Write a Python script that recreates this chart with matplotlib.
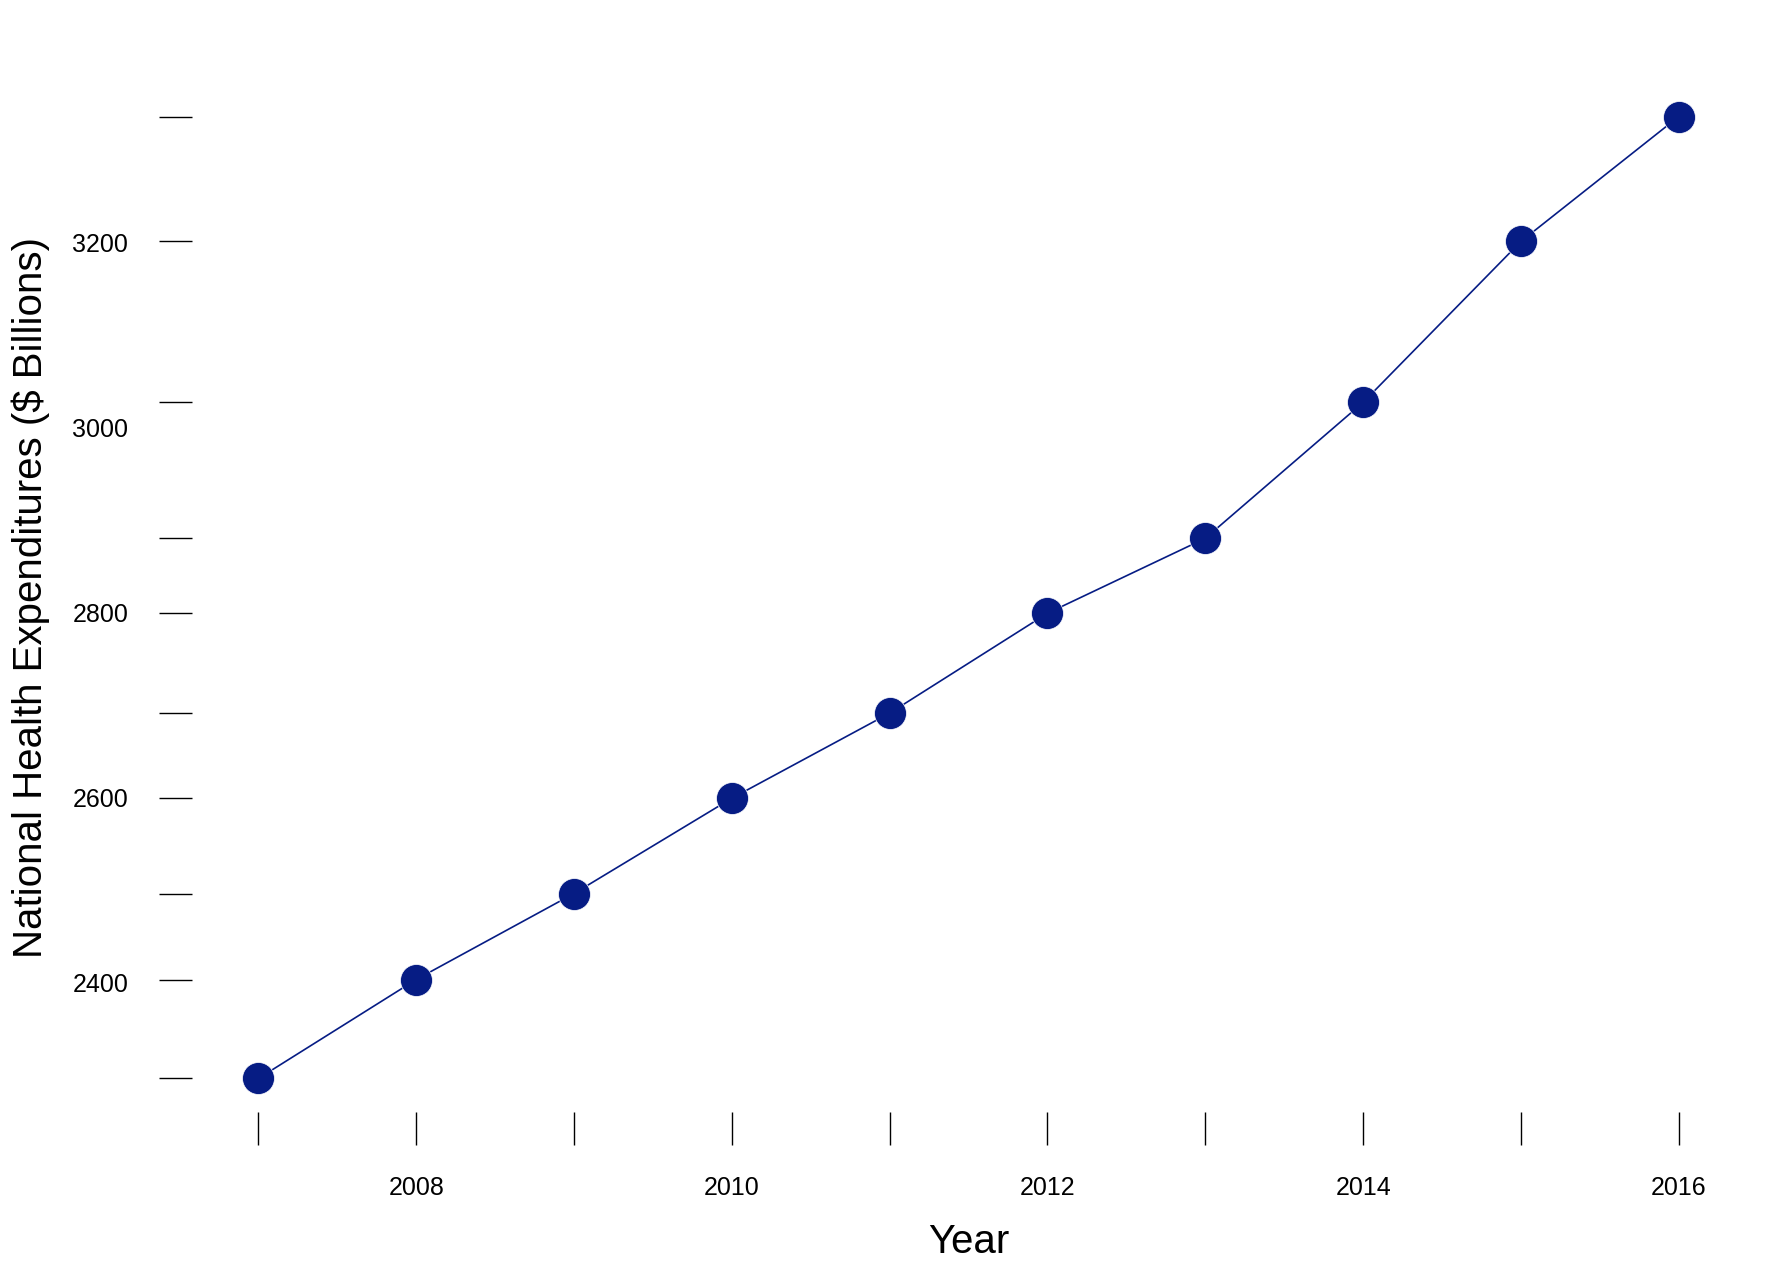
import matplotlib
matplotlib.use("Agg")
import matplotlib.pyplot as plt
from matplotlib.ticker import FixedLocator, NullFormatter

plt.rcParams['font.family'] = ['Liberation Sans', 'DejaVu Sans']

# national health expenditures, $ billions
years = [2007, 2008, 2009, 2010, 2011, 2012, 2013, 2014, 2015, 2016]
spend = [2296, 2403, 2496, 2599, 2691, 2799, 2880, 3027, 3201, 3336]
year_labels = [2008, 2010, 2012, 2014, 2016]
spend_labels = [2400, 2600, 2800, 3000, 3200]

navy = '#061c84'

fig = plt.figure(figsize=(17.72, 12.72), dpi=100)
ax = fig.add_axes([0.1084, 0.1258, 0.8764, 0.8097])

ax.plot(years, spend, color=navy, lw=1.2, marker='o', ms=23,
        mfc=navy, mec='white', mew=0.5, zorder=3)

ax.set_xlim(2006.58, 2016.42)
ax.set_ylim(2259.8, 3373.3)

for s in ax.spines.values():
    s.set_visible(False)

# ticks sit at the data values, labels at round numbers
ax.xaxis.remove_overlapping_locs = False
ax.yaxis.remove_overlapping_locs = False
ax.xaxis.set_major_locator(FixedLocator(years))
ax.yaxis.set_major_locator(FixedLocator(spend))
ax.xaxis.set_major_formatter(NullFormatter())
ax.yaxis.set_major_formatter(NullFormatter())
ax.set_xticks(year_labels, minor=True)
ax.set_xticklabels([str(v) for v in year_labels], minor=True)
ax.set_yticks(spend_labels, minor=True)
ax.set_yticklabels([str(v) for v in spend_labels], minor=True)

ax.tick_params(which='major', length=24, width=1.0, color='black')
ax.tick_params(which='minor', length=0, labelsize=18, pad=46)

ax.set_xlabel('Year', fontsize=29)
ax.set_ylabel('National Health Expenditures ($ Billions)', fontsize=29)
ax.xaxis.set_label_coords(0.5, -0.1075)
ax.yaxis.set_label_coords(-0.0915, 0.5)

fig.savefig('out.png', dpi=100, facecolor='white')
